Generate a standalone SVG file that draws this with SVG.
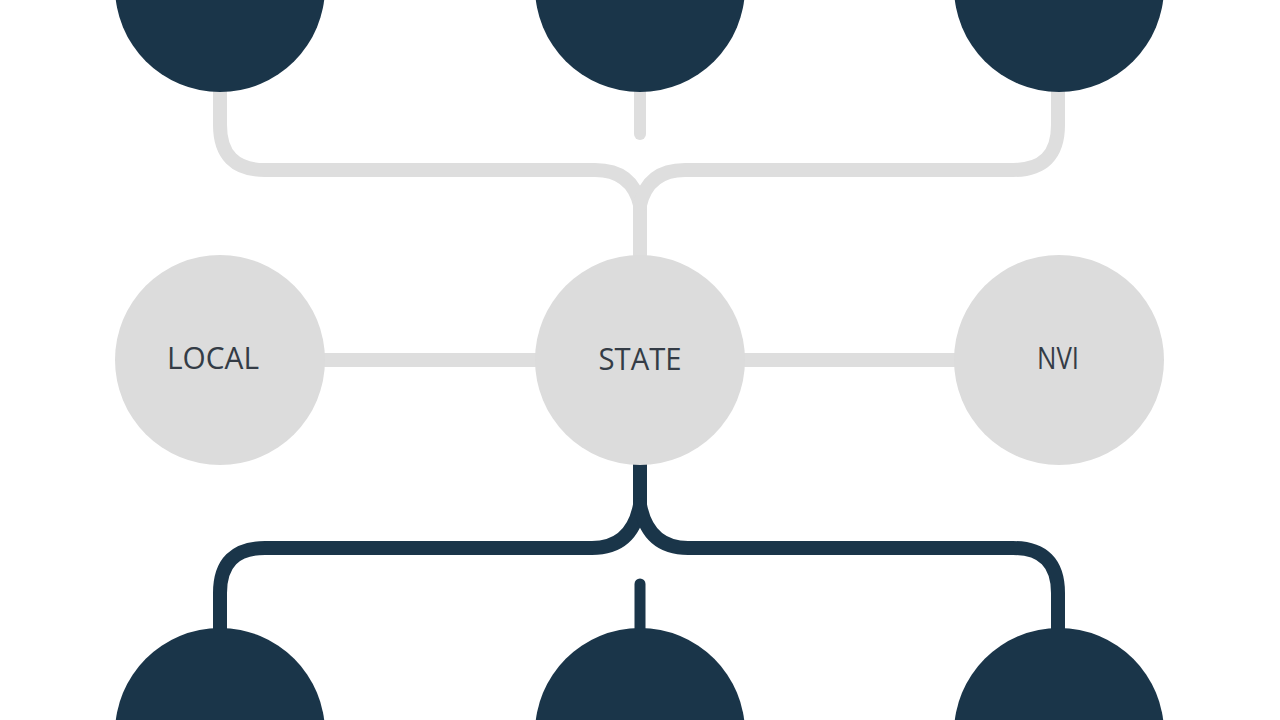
<svg xmlns="http://www.w3.org/2000/svg" width="1280" height="720" viewBox="0 0 1280 720">
<style>
.dark{fill:#1a3549}
.light{fill:#dcdcdc}
.lc{fill:none;stroke:#dedede;stroke-width:14;stroke-linecap:round;stroke-linejoin:round}
.dc{fill:none;stroke:#1a3549;stroke-width:14;stroke-linecap:round;stroke-linejoin:round}
.lbl{font-family:"Open Sans","Noto Sans",sans-serif;font-size:31px;fill:#343c46;text-anchor:middle;dominant-baseline:central}
</style>
<rect width="1280" height="720" fill="#ffffff"/>
<g id="connectors">
<path class="lc" d="M220,80 V125 Q220,170 265,170 H595 Q632,170 640,205 V262"/>
<path class="lc" d="M1058,80 V125 Q1058,170 1013,170 H685 Q648,170 640,205"/>
<path class="lc" d="M640,80 V134" style="stroke-width:12"/>
<path class="lc" d="M320,360 H540"/>
<path class="lc" d="M740,360 H960"/>
<path class="dc" d="M640,458 V505 Q632,548 592,548 H265 Q220,548 220,593 V640"/>
<path class="dc" d="M640,505 Q648,548 688,548 H1013 Q1058,548 1058,593 V640"/>
<path class="dc" d="M640,584 V640" style="stroke-width:11"/>
</g>
<g id="top-left"><circle class="dark" cx="220" cy="-13" r="105"/></g>
<g id="top-center"><circle class="dark" cx="640" cy="-13" r="105"/></g>
<g id="top-right"><circle class="dark" cx="1059" cy="-13" r="105"/></g>
<g id="local"><circle class="light" cx="220" cy="360" r="105"/><text class="lbl" x="213" y="357" textLength="92" lengthAdjust="spacingAndGlyphs">LOCAL</text></g>
<g id="state"><circle class="light" cx="640" cy="360" r="105"/><text class="lbl" x="640" y="358" textLength="83" lengthAdjust="spacingAndGlyphs">STATE</text></g>
<g id="nvi"><circle class="light" cx="1059" cy="360" r="105"/><text class="lbl" x="1058" y="357" textLength="42" lengthAdjust="spacingAndGlyphs">NVI</text></g>
<g id="bottom-left"><circle class="dark" cx="220" cy="733" r="105"/></g>
<g id="bottom-center"><circle class="dark" cx="640" cy="733" r="105"/></g>
<g id="bottom-right"><circle class="dark" cx="1059" cy="733" r="105"/></g>
</svg>
